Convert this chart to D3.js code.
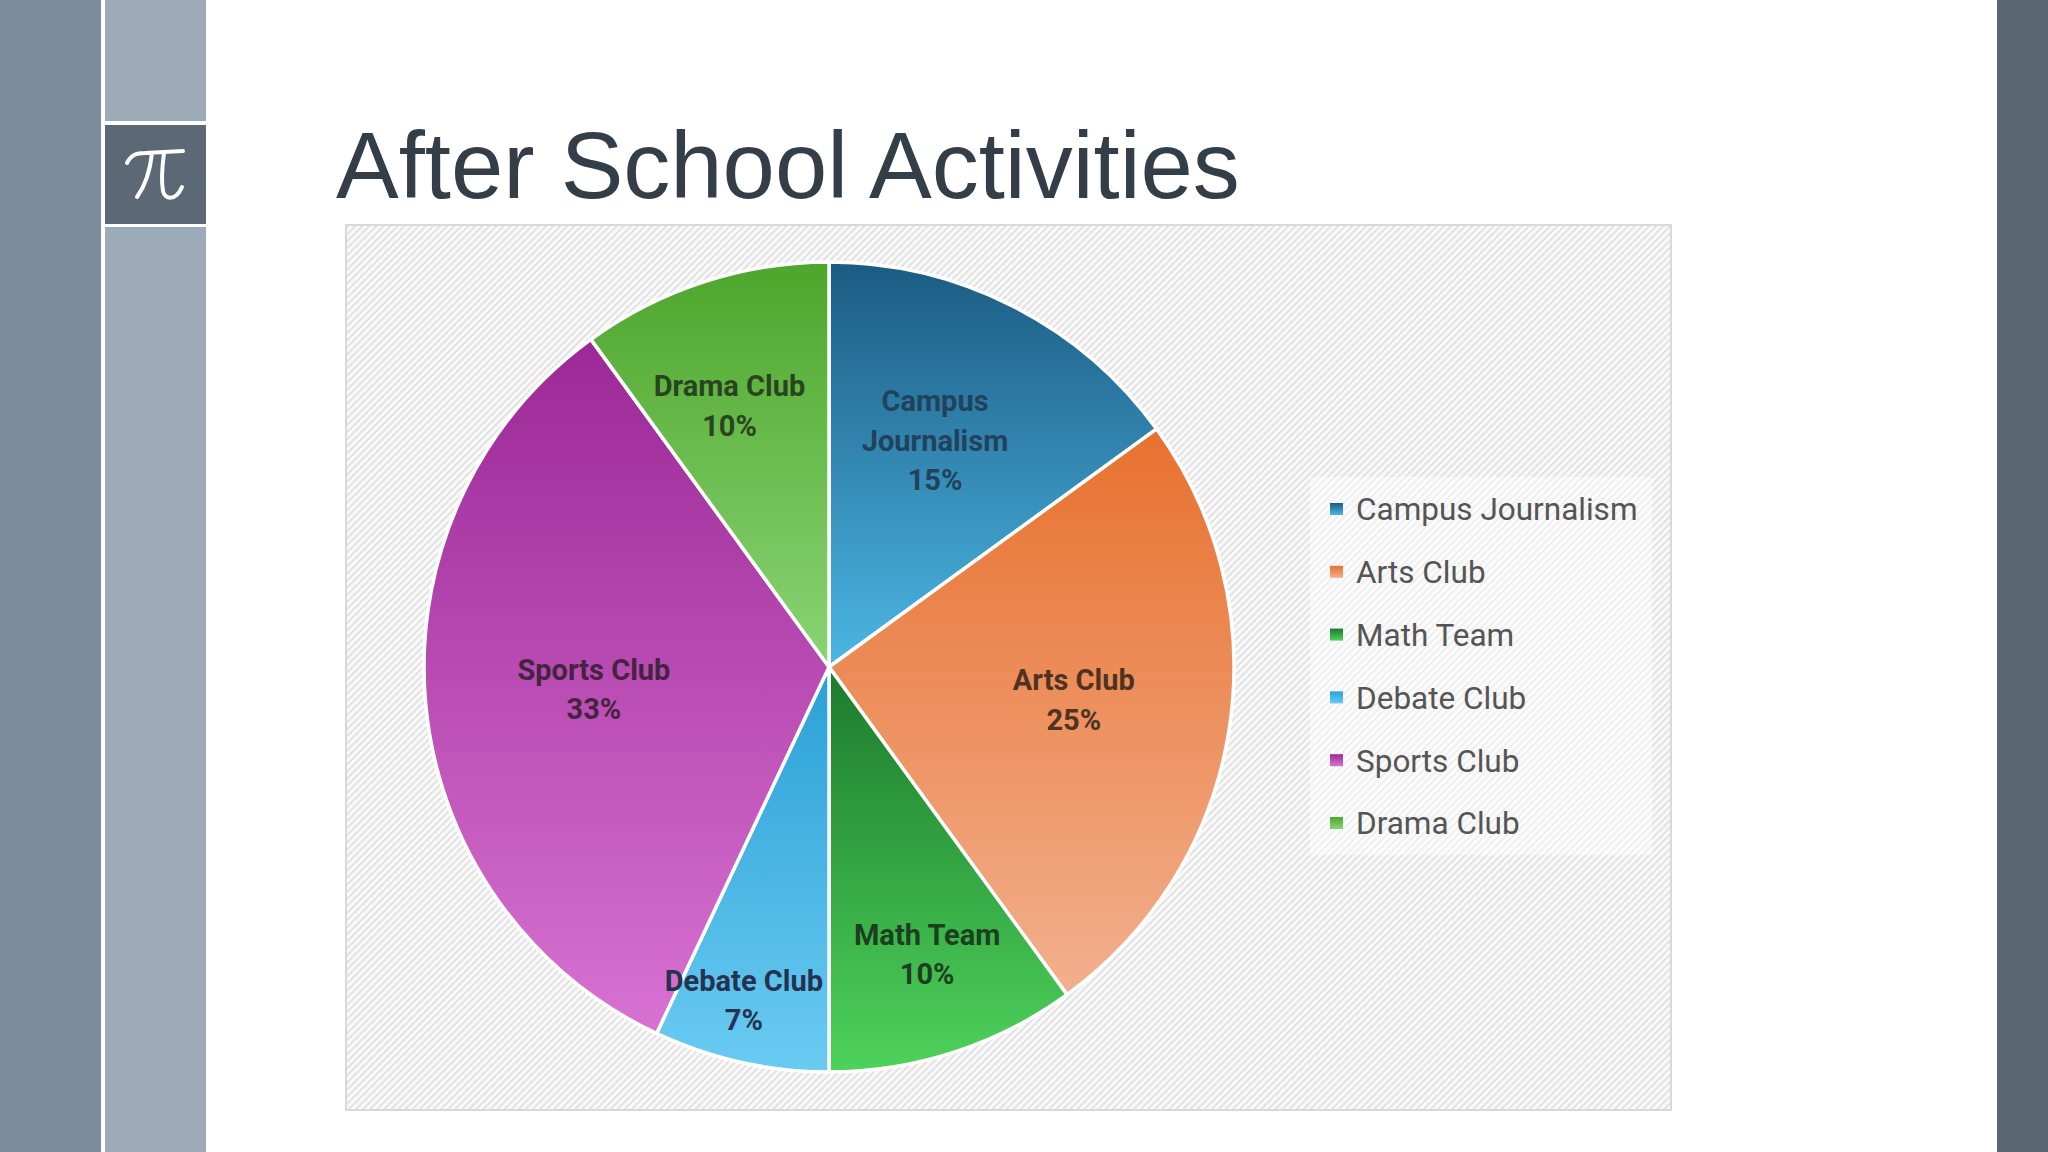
<!DOCTYPE html>
<html>
<head>
<meta charset="utf-8">
<script src="https://cdn.jsdelivr.net/npm/d3@7"></script>
<style>
  html, body { margin: 0; padding: 0; background: #fff; }
  svg { display: block; }
</style>
</head>
<body>
<svg width="2048" height="1152"></svg>
<script>
// data
const categories = ["Campus Journalism", "Arts Club", "Math Team", "Debate Club", "Sports Club", "Drama Club"];
const values = [15, 25, 10, 7, 33, 10];
const topColors = ["#1b5b82", "#e8712f", "#1c7a2c", "#2aa0d6", "#9b2896", "#4ea62c"];
const bottomColors = ["#4cb6e4", "#f2b08e", "#4ed25b", "#6acbf2", "#d872d2", "#8ad474"];
const labelColors = ["#21425a", "#4f3322", "#1c3f1f", "#24334f", "#44243f", "#2a4420"];

const svg = d3.select("svg");
const width = +svg.attr("width");
const height = +svg.attr("height");

const defs = svg.append("defs");

// diagonal hatch for the chart area
const hatch = defs.append("pattern")
    .attr("id", "hatch")
    .attr("patternUnits", "userSpaceOnUse")
    .attr("width", 5)
    .attr("height", 5)
    .attr("patternTransform", "rotate(45)");
hatch.append("rect").attr("width", 5).attr("height", 5).attr("fill", "#f9f9f9");
hatch.append("rect").attr("width", 2).attr("height", 5).attr("fill", "#e2e2e2");

// one vertical gradient per slice
categories.forEach((c, i) => {
    const g = defs.append("linearGradient")
        .attr("id", "grad" + i)
        .attr("x1", 0).attr("y1", 0).attr("x2", 0).attr("y2", 1);
    g.append("stop").attr("offset", "0%").attr("stop-color", topColors[i]);
    g.append("stop").attr("offset", "100%").attr("stop-color", bottomColors[i]);
});

// side bars
svg.append("rect").attr("x", 0).attr("y", 0).attr("width", 101).attr("height", height).attr("fill", "#7b8d9d");
svg.append("rect").attr("x", 105).attr("y", 0).attr("width", 101).attr("height", height).attr("fill", "#9daab7");
svg.append("rect").attr("x", 105).attr("y", 121).attr("width", 101).attr("height", 106).attr("fill", "#fff");
svg.append("rect").attr("x", 105).attr("y", 125).attr("width", 101).attr("height", 99).attr("fill", "#5b6876");

// pi glyph, drawn as strokes
svg.append("path")
    .attr("d", "M127,163 C131,155 136,153 145,153 L183,151 " +
               "M152,153 C150,172 145,186 137,197 " +
               "M164,153 C162,168 161,180 163,191 C165,200 176,201 182,187")
    .attr("fill", "none")
    .attr("stroke", "#fff")
    .attr("stroke-width", 4)
    .attr("stroke-linecap", "round");

svg.append("rect").attr("x", 1997).attr("y", 0).attr("width", 51).attr("height", height).attr("fill", "#5a6672");

// title
svg.append("text")
    .attr("x", 336)
    .attr("y", 198)
    .attr("fill", "#333e49")
    .attr("font-family", "Liberation Sans, Arial, sans-serif")
    .attr("font-size", 94)
    .text("After School Activities");

// chart area
svg.append("rect")
    .attr("x", 346).attr("y", 225)
    .attr("width", 1325).attr("height", 885)
    .attr("fill", "url(#hatch)")
    .attr("stroke", "#d9d9d9")
    .attr("stroke-width", 2);

// pie
const cx = 829, cy = 667, radius = 405;
const pie = d3.pie().sort(null).value(d => d.value);
const data = categories.map((c, i) => ({ name: c, value: values[i], i: i }));
const arcs = pie(data);
const arc = d3.arc().innerRadius(0).outerRadius(radius);

const pieG = svg.append("g").attr("transform", `translate(${cx}, ${cy})`);

pieG.selectAll("path")
    .data(arcs)
    .join("path")
    .attr("d", arc)
    .attr("fill", d => `url(#grad${d.data.i})`)
    .attr("stroke", "#fff")
    .attr("stroke-width", 3.5)
    .attr("stroke-linejoin", "round");

// label placement (best-fit style, fraction of radius + angle nudge)
const labelRadius = { "Campus Journalism": 0.617, "Arts Club": 0.61, "Math Team": 0.75, "Debate Club": 0.85, "Sports Club": 0.583, "Drama Club": 0.69 };
const labelShift = { "Campus Journalism": -0.033, "Arts Club": -0.023, "Math Team": -0.015, "Debate Club": 0.03, "Sports Club": 0, "Drama Club": -0.05 };

arcs.forEach(d => {
    const mid = (d.startAngle + d.endAngle) / 2 + (labelShift[d.data.name] || 0);
    const r = radius * labelRadius[d.data.name];
    const x = r * Math.sin(mid);
    const y = -r * Math.cos(mid);
    const lines = d.data.name.length > 12 ? d.data.name.split(" ") : [d.data.name];
    lines.push(d.data.value + "%");
    const lh = 39.5;
    const t = pieG.append("text")
        .attr("text-anchor", "middle")
        .attr("fill", labelColors[d.data.i])
        .attr("font-family", "Roboto, sans-serif")
        .attr("font-weight", "bold")
        .attr("font-size", 29);
    lines.forEach((ln, k) => {
        t.append("tspan")
            .attr("x", x)
            .attr("y", y + (k - (lines.length - 1) / 2) * lh)
            .attr("dy", "0.35em")
            .text(ln);
    });
});

// legend
const legend = svg.append("g");
legend.append("rect")
    .attr("x", 1310).attr("y", 477)
    .attr("width", 342).attr("height", 378)
    .attr("fill", "#fff").attr("opacity", 0.45);

const legendY = d3.scalePoint()
    .domain(categories)
    .range([509, 823]);

const items = legend.selectAll("g.item")
    .data(data)
    .join("g")
    .attr("class", "item")
    .attr("transform", d => `translate(1330, ${legendY(d.name)})`);

items.append("rect")
    .attr("x", 0).attr("y", -6)
    .attr("width", 13).attr("height", 12)
    .attr("fill", d => `url(#grad${d.i})`);

items.append("text")
    .attr("x", 26)
    .attr("dy", "0.36em")
    .attr("fill", "#555")
    .attr("font-family", "Roboto, sans-serif")
    .attr("font-size", 31.5)
    .text(d => d.name);
</script>
</body>
</html>
